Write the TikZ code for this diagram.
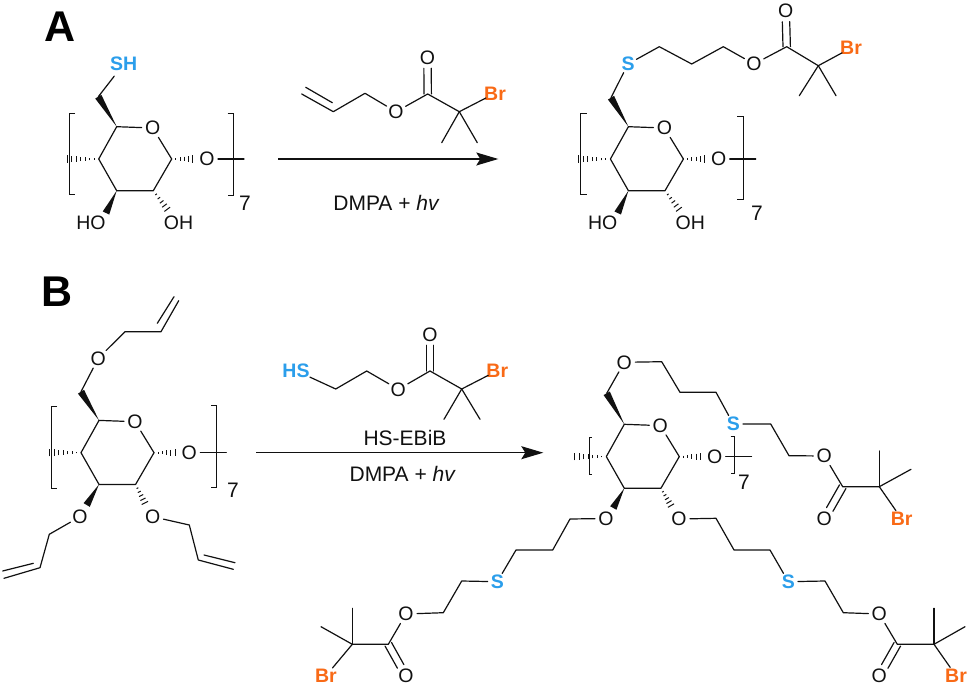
\documentclass[tikz,border=0pt]{standalone}
\usepackage{fontspec}
\setmainfont{Liberation Sans}
\usetikzlibrary{calc,arrows.meta}
\definecolor{sblue}{HTML}{2B9EEB}
\definecolor{brorange}{HTML}{F96A16}
\definecolor{ink}{HTML}{111111}
\tikzset{
  bond/.style={draw=ink,line width=1.2pt,line cap=round,line join=round},
  brk/.style={draw=ink,line width=1pt,line join=miter},
  atom/.style={circle,inner sep=0.4pt,text=ink,font=\fontsize{19.5}{20}\selectfont},
  satom/.style={circle,inner sep=0pt,text=sblue,font=\fontsize{19.5}{20}\bfseries\selectfont},
  bratom/.style={circle,inner sep=-2pt,text=brorange,font=\fontsize{19.5}{20}\bfseries\selectfont},
  captext/.style={inner sep=0pt,text=ink,font=\fontsize{21}{22}\selectfont},
  lab/.style={inner sep=0pt,text=ink,font=\fontsize{19.5}{20}\selectfont},
  panel/.style={inner sep=0pt,text=black,font=\fontsize{43}{44}\bfseries\selectfont},
  rxn/.style={draw=ink,line width=1.2pt,-{Stealth[length=22pt,width=13pt,inset=4pt]}},
}
% wedge: narrow at #1, wide at #2
\newcommand{\wedgeb}[2]{\fill[ink] (#1) -- ($(#2)!3.6pt!90:(#1)$) -- ($(#2)!3.6pt!-90:(#1)$) -- cycle;}
% hashed bond: narrow at #1, wide at #2, #3 marks
\newcommand{\hashb}[3]{\foreach \ii in {1,...,#3}{%
  \pgfmathsetmacro\hasht{\ii/#3}\pgfmathsetmacro\hashw{0.3+\hasht*3.9}%
  \draw[draw=ink,line width=1pt] ($(#1)!\hasht!(#2)!\hashw pt!90:(#2)$) -- ($(#1)!\hasht!(#2)!\hashw pt!-90:(#2)$);}}
% carbonyl: two parallel lines from coordinate #1 to node #2
\newcommand{\carbonyl}[2]{%
  \draw[bond,shorten >=11pt] ($(#1)!3.7pt!90:(#2)$) -- ($(#2)!3.7pt!-90:(#1)$);
  \draw[bond,shorten >=11pt] ($(#1)!3.7pt!-90:(#2)$) -- ($(#2)!3.7pt!90:(#1)$);}
% left and right brackets: x, top, bottom, tick
\newcommand{\lbrk}[4]{\draw[brk] (#1+#4,#2) -- (#1,#2) -- (#1,#3) -- (#1+#4,#3);}
\newcommand{\rbrk}[4]{\draw[brk] (#1-#4,#2) -- (#1,#2) -- (#1,#3) -- (#1-#4,#3);}
% sugar ring: prefix, dx, dy
\newcommand{\sugarring}[3]{%
\begin{scope}[shift={(#2,#3)}]
  \coordinate (#1c5) at (116.7,126.7);
  \node[atom] (#1o) at (152.7,128) {O};
  \coordinate (#1c1) at (171.7,159);
  \coordinate (#1c2) at (153.3,190.7);
  \coordinate (#1c3) at (116.7,190.7);
  \coordinate (#1c4) at (98.7,159);
  \node[atom] (#1o1) at (207,159) {O};
  \coordinate (#1h1) at (197,159);
  \coordinate (#1end) at (244,159);
  \coordinate (#1left) at (62.7,159);
\end{scope}
\draw[bond] (#1c5) -- (#1o);
\draw[bond] (#1o) -- (#1c1);
\draw[bond] (#1c1) -- (#1c2) -- (#1c3) -- (#1c4) -- (#1c5);
\draw[bond] (#1o1) -- (#1end);
\hashb{#1c1}{#1h1}{6}
\hashb{#1c4}{#1left}{8}
}
% isobutyrate end: names c, q, o, br are nodes/coordinates with prefix
\newcommand{\ester}[1]{%
  \carbonyl{#1c}{#1co}
  \draw[bond] (#1o) -- (#1c) -- (#1q);
  \draw[bond] (#1q) -- (#1br);
  \draw[bond] (#1q) -- (#1m1);
  \draw[bond] (#1q) -- (#1m2);
}
\begin{document}
\begin{tikzpicture}[x=1pt,y=-1pt]
\useasboundingbox (0,0) rectangle (971,687);
\fill[white] (0,0) rectangle (971,687);

\node[panel] (panela) at (60.5,27) {A};
\node[panel] (panelb) at (57,291.5) {B};

%%% A, left
\sugarring{a}{0}{0}
\lbrk{69}{113.5}{195}{6}
\rbrk{233.5}{114}{195.5}{6}
\node[captext] (a7) at (245,203.5) {7};
\coordinate (ac6) at (98.3,96.7);
\node[satom] (ash) at (123.7,64) {SH};
\wedgeb{ac5}{ac6}
\draw[bond] (ac6) -- (ash);
\coordinate (aoh3) at (106,213);
\coordinate (aoh2) at (170,213);
\wedgeb{ac3}{aoh3}
\hashb{ac2}{aoh2}{6}
\node[lab] (aho) at (91,222.5) {HO};
\node[lab] (aoh) at (178.5,222.5) {OH};

%%% A, reagent
\coordinate (ra1) at (301.7,94);
\coordinate (ra2) at (333.3,111.7);
\coordinate (ra1b) at (305.7,87.3);
\coordinate (ra2b) at (332.3,102.7);
\coordinate (ra3) at (365,93.3);
\node[atom] (rao) at (396,111.7) {O};
\coordinate (rac) at (427.7,94);
\node[atom] (raco) at (427.5,57.3) {O};
\coordinate (raq) at (459.3,111.7);
\node[bratom] (rabr) at (495,93.3) {Br};
\coordinate (ram1) at (441.7,142.7);
\coordinate (ram2) at (477.3,142.7);
\draw[bond] (ra1) -- (ra2) -- (ra3) -- (rao);
\draw[bond] (ra1b) -- (ra2b);
\ester{ra}

%%% A, arrow
\coordinate (arra) at (278.3,159);
\coordinate (arrb) at (498.3,159);
\draw[rxn] (arra) -- (arrb);
\node[captext] (adm) at (386.5,202.5) {DMPA + \textit{hv}};

%%% A, product
\sugarring{p}{511.7}{0}
\lbrk{580.7}{113.5}{195}{6}
\rbrk{743.3}{116.5}{199}{6}
\node[captext] (p7) at (757,213) {7};
\coordinate (pc6) at (611,97.7);
\node[satom] (ps) at (628,64) {S};
\coordinate (pc7) at (659.3,46.7);
\coordinate (pc8) at (691.7,64);
\coordinate (pc9) at (723.3,46.7);
\node[atom] (pao) at (754,64) {O};
\coordinate (pac) at (786.7,46.7);
\node[atom] (paco) at (785.7,10.7) {O};
\coordinate (paq) at (818.3,65.7);
\node[bratom] (pabr) at (851,48) {Br};
\coordinate (pam1) at (799.3,95.7);
\coordinate (pam2) at (836,95.7);
\wedgeb{pc5}{pc6}
\draw[bond] (pc6) -- (ps);
\draw[bond] (ps) -- (pc7) -- (pc8) -- (pc9) -- (pao);
\ester{pa}
\coordinate (poh3) at (617.7,213);
\coordinate (poh2) at (681.7,213);
\wedgeb{pc3}{poh3}
\hashb{pc2}{poh2}{6}
\node[lab] (pho) at (602.7,222.5) {HO};
\node[lab] (poh) at (690.2,222.5) {OH};

%%% B, left
\sugarring{b}{-17.7}{293.7}
\lbrk{51.7}{406.7}{488}{5.5}
\rbrk{216.7}{405}{487.3}{5.5}
\node[captext] (b7) at (233,490) {7};
\coordinate (bc6) at (81,391.7);
\node[atom] (bo6) at (98.3,358.3) {O};
\coordinate (bc7) at (125,331.7);
\coordinate (bc8) at (161,331.7);
\coordinate (bc9) at (178.7,300.7);
\coordinate (bc8b) at (157.3,323.3);
\coordinate (bc9b) at (174,296.7);
\wedgeb{bc5}{bc6}
\draw[bond] (bc6) -- (bo6);
\draw[bond] (bo6) -- (bc7) -- (bc8) -- (bc9);
\draw[bond] (bc8b) -- (bc9b);
\coordinate (bw3) at (86.7,505);
\node[atom] (bo3) at (80,516.7) {O};
\coordinate (bc31) at (49.3,534.3);
\coordinate (bc32) at (40,567.7);
\coordinate (bc33) at (4,578.3);
\coordinate (bc32b) at (33.3,563.3);
\coordinate (bc33b) at (2.7,571);
\wedgeb{bc3}{bw3}
\draw[bond] (bo3) -- (bc31) -- (bc32) -- (bc33);
\draw[bond] (bc32b) -- (bc33b);
\coordinate (bw2) at (146.7,506.7);
\node[atom] (bo2) at (152.7,516.7) {O};
\coordinate (bc21) at (189.3,525);
\coordinate (bc22) at (198.3,560);
\coordinate (bc23) at (233.3,569.3);
\coordinate (bc22b) at (204,555);
\coordinate (bc23b) at (235,562.7);
\hashb{bc2}{bw2}{6}
\draw[bond] (bo2) -- (bc21) -- (bc22) -- (bc23);
\draw[bond] (bc22b) -- (bc23b);

%%% B, reagent
\node[satom] (rbhs) at (296,370.7) {HS};
\coordinate (rb1) at (335.7,389);
\coordinate (rb2) at (366.7,371);
\node[atom] (rbo) at (398.3,389.3) {O};
\coordinate (rbc) at (430,371);
\node[atom] (rbco) at (430,334.3) {O};
\coordinate (rbq) at (461.7,389);
\node[bratom] (rbbr) at (497.3,370.7) {Br};
\coordinate (rbm1) at (444,419.3);
\coordinate (rbm2) at (480,419.3);
\draw[bond] (rbhs) -- (rb1) -- (rb2) -- (rbo);
\ester{rb}
\node[captext] (hse) at (405,437.5) {HS-EBiB};

%%% B, arrow
\coordinate (brra) at (256,452.7);
\coordinate (brrb) at (543.3,452.7);
\draw[rxn] (brra) -- (brrb);
\node[captext] (bdm) at (402.7,474) {DMPA + \textit{hv}};

%%% B, product
\sugarring{q}{507.6}{297.6}
\lbrk{589}{437.3}{474}{2.5}
\rbrk{734}{436.7}{473.3}{3.5}
\node[captext] (q7) at (744,482) {7};
\coordinate (qc6) at (606.7,393.3);
\node[atom] (qo6) at (624.3,362.3) {O};
\coordinate (qc7) at (661.7,361.7);
\coordinate (qc8) at (680,392.3);
\coordinate (qc9) at (716,392.3);
\node[satom] (qs6) at (733.3,424) {S};
\coordinate (qc10) at (770.7,424);
\coordinate (qc11) at (789,455.7);
\node[atom] (qao) at (824.3,456) {O};
\coordinate (qac) at (842.7,486.7);
\node[atom] (qaco) at (824.3,519) {O};
\coordinate (qaq) at (879.3,486.7);
\coordinate (qam1) at (879.3,451);
\coordinate (qam2) at (911,469.3);
\node[bratom] (qabr) at (901.7,519) {Br};
\wedgeb{qc5}{qc6}
\draw[bond] (qc6) -- (qo6);
\draw[bond] (qo6) -- (qc7) -- (qc8) -- (qc9) -- (qs6);
\draw[bond] (qs6) -- (qc10) -- (qc11) -- (qao);
\ester{qa}

\coordinate (qw3) at (613.3,508);
\node[atom] (qo3) at (606,518.5) {O};
\coordinate (qd1) at (570,519);
\coordinate (qd2) at (552.7,550);
\coordinate (qd3) at (516,550);
\node[satom] (qs3) at (497.3,581.7) {S};
\coordinate (qd4) at (461.7,581);
\coordinate (qd5) at (443.3,612.7);
\node[atom] (qbo) at (406,614) {O};
\coordinate (qbc) at (388.3,644.3);
\node[atom] (qbco) at (406,676) {O};
\coordinate (qbq) at (352.3,644.3);
\coordinate (qbm1) at (352.3,608.3);
\coordinate (qbm2) at (321,626.7);
\node[bratom] (qbbr) at (326,675.7) {Br};
\wedgeb{qc3}{qw3}
\draw[bond] (qo3) -- (qd1) -- (qd2) -- (qd3) -- (qs3);
\draw[bond] (qs3) -- (qd4) -- (qd5) -- (qbo);
\ester{qb}

\coordinate (qw2) at (673,509);
\node[atom] (qo2) at (679,519) {O};
\coordinate (qe1) at (716,518.3);
\coordinate (qe2) at (734,550);
\coordinate (qe3) at (770,550);
\node[satom] (qs2) at (788.3,581.7) {S};
\coordinate (qe4) at (825,581);
\coordinate (qe5) at (843.3,612.7);
\node[atom] (qco) at (879.3,614) {O};
\coordinate (qcc) at (897.3,644.3);
\node[atom] (qcco) at (879.3,676) {O};
\coordinate (qcq) at (934,644.3);
\coordinate (qcm1) at (934,608.3);
\coordinate (qcm2) at (965,626.7);
\node[bratom] (qcbr) at (956,675.7) {Br};
\hashb{qc2}{qw2}{6}
\draw[bond] (qo2) -- (qe1) -- (qe2) -- (qe3) -- (qs2);
\draw[bond] (qs2) -- (qe4) -- (qe5) -- (qco);
\ester{qc}
\end{tikzpicture}
\end{document}
